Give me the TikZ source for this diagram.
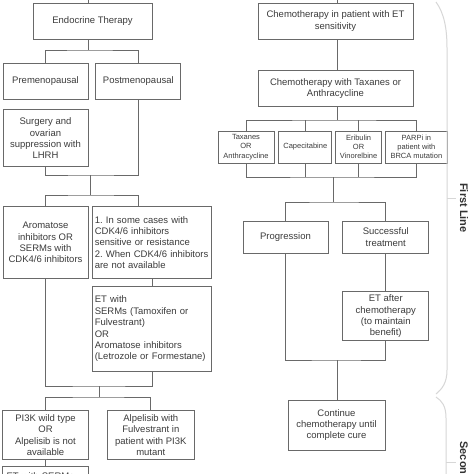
\documentclass[tikz,border=0pt]{standalone}
\usepackage{fontspec}
\setmainfont{Liberation Sans}
\usepackage{tikz}
\usetikzlibrary{positioning}
\definecolor{txt}{RGB}{60, 60, 60}
\definecolor{edge}{RGB}{105, 105, 105}
\definecolor{brace}{RGB}{215, 215, 215}
\tikzstyle{box} = [rectangle, draw=edge, line width=0.8pt, text=txt, align=center, inner sep=2pt, font=\frenchspacing\fontsize{9.5}{11.4}\selectfont, minimum height=36pt]
\tikzstyle{lbox} = [box, align=left, text width=115pt, inner xsep=2pt]
\tikzstyle{sbox} = [box, font=\fontsize{7.5}{9.2}\selectfont, minimum height=32pt]
\tikzstyle{tline} = [draw=edge, line width=0.8pt]
\tikzstyle{bline} = [draw=brace, line width=1pt]
\tikzstyle{side} = [text=black!80, font=\bfseries\fontsize{11}{13}\selectfont, rotate=-90]

\begin{document}
\begin{tikzpicture}[x=1pt, y=-1pt]
\clip (0,0) rectangle (474,474);
\fill[white] (0,0) rectangle (474,474);

% boxes =============================

% endocrine branch
\node[box, minimum width=119pt] (endo) at (92.5,21) {Endocrine Therapy};
\node[box, minimum width=85pt] (pre) at (45.5,81) {Premenopausal};
\node[box, minimum width=85pt, right=7pt of pre] (post) {Postmenopausal};
\node[box, minimum width=85pt, minimum height=57pt, below=10pt of pre] (surg) {Surgery and\\ovarian\\suppression with\\LHRH};
\node[box, minimum width=85pt, minimum height=72pt, below=39pt of surg] (arom) {Aromatose\\inhibitors OR\\SERMs with\\CDK4/6 inhibitors};
\node[lbox, minimum height=72pt, right=4pt of arom] (cases) {1. In some cases with\\CDK4/6 inhibitors\\sensitive or resistance\\2. When CDK4/6 inhibitors\\are not available};
\node[lbox, minimum height=85pt, below=7pt of cases] (etwith) {ET with\\SERMs (Tamoxifen or\\Fulvestrant)\\OR\\Aromatose inhibitors\\(Letrozole or Formestane)};
\node[box, minimum width=86pt, minimum height=49pt, below=131pt of arom] (pi3k) {PI3K wild type\\OR\\Alpelisib is not\\available};
\node[box, minimum width=87pt, minimum height=49pt, right=18pt of pi3k] (alpe) {Alpelisib with\\Fulvestrant in\\patient with PI3K\\mutant};
\node[box, align=left, text width=78pt, inner xsep=4pt, inner ysep=6pt, minimum height=0pt, below=6pt of pi3k] (cut) {ET with SERMs};

% chemotherapy branch
\node[box, minimum width=155pt] (chemoET) at (335.5,21) {Chemotherapy in patient with ET\\sensitivity};
\node[box, minimum width=155pt, below=31pt of chemoET] (chemoTax) {Chemotherapy with Taxanes or\\Anthracycline};
\node[sbox, minimum width=56pt] (taxa) at (246,147) {Taxanes\\OR\\Anthracycline};
\node[sbox, minimum width=53pt, right=4pt of taxa] (cape) {Capecitabine};
\node[sbox, minimum width=46pt, right=3pt of cape] (erib) {Eribulin\\OR\\Vinorelbine};
\node[sbox, minimum width=62pt, right=3pt of erib] (parp) {PARPi in\\patient with\\BRCA mutation};
\node[box, minimum width=85pt, minimum height=32pt] (prog) at (285.5,237) {Progression};
\node[box, minimum width=86pt, minimum height=32pt, right=14pt of prog] (succ) {Successful\\treatment};
\node[box, minimum width=86pt, minimum height=49pt, below=38pt of succ] (etafter) {ET after\\chemotherapy\\(to maintain\\benefit)};
\node[box, minimum width=97pt, minimum height=50pt] (cont) at (336.5,425) {Continue\\chemotherapy until\\complete cure};

% lines side
\node[side] (first) at (464,208) {First Line};
\node[side, anchor=west] (second) at (464,438) {Second Line};

% joints
\coordinate (etop) at (88,0);
\coordinate (f1) at (88,50);
\coordinate (j1) at (90,175);
\coordinate (f2) at (90,195);
\coordinate (j2) at (99,386);
\coordinate (f3) at (99,397);
\coordinate (ctop) at (337,0);
\coordinate (f4) at (337,120);
\coordinate (j3) at (333,177);
\coordinate (f5) at (333,202);
\coordinate (j4) at (337,360);

%edges
\path[tline] (etop) -- (etop |- endo.north);
\path[tline] (f1 |- endo.south) -- (f1);
\path[tline] (pre.north) |- (f1) -| (post.north);
\path[tline] (surg.south) |- (j1) -| (post.south);
\path[tline] (j1) -- (f2);
\path[tline] (arom.north) |- (f2) -| (post.south |- cases.north);
\path[tline] (cases) -- (etwith);
\path[tline] (arom.south) |- (j2) -| (etwith.south);
\path[tline] (j2) -- (f3);
\path[tline] (pi3k.north) |- (f3) -| (alpe.north);
\path[tline] (pi3k) -- (cut);

\path[tline] (ctop) -- (ctop |- chemoET.north);
\path[tline] (ctop |- chemoET.south) -- (ctop |- chemoTax.north);
\path[tline] (ctop |- chemoTax.south) -- (f4);
\path[tline] (taxa.north) |- (f4) -| (parp.north);
\path[tline] (cape.north) -- (cape.north |- f4);
\path[tline] (erib.north) -- (erib.north |- f4);
\path[tline] (taxa.south) |- (j3) -| (parp.south);
\path[tline] (cape.south) -- (cape.south |- j3);
\path[tline] (erib.south) -- (erib.south |- j3);
\path[tline] (j3) -- (f5);
\path[tline] (prog.north) |- (f5) -| (succ.north);
\path[tline] (succ) -- (etafter);
\path[tline] (prog.south) |- (j4) -| (etafter.south);
\path[tline] (j4) -- (j4 |- cont.north);

% braces
\path[bline] (436,2) .. controls (444,13) and (447,28) .. (447,48) -- (447,370) .. controls (447,383) and (442,389) .. (436,394);
\path[bline] (447,198) -- (456,198);
\path[bline] (436,397) .. controls (442,401) and (446,406) .. (446,418) -- (446,480);
\path[bline] (446,462) -- (456,462);

\end{tikzpicture}
\end{document}
